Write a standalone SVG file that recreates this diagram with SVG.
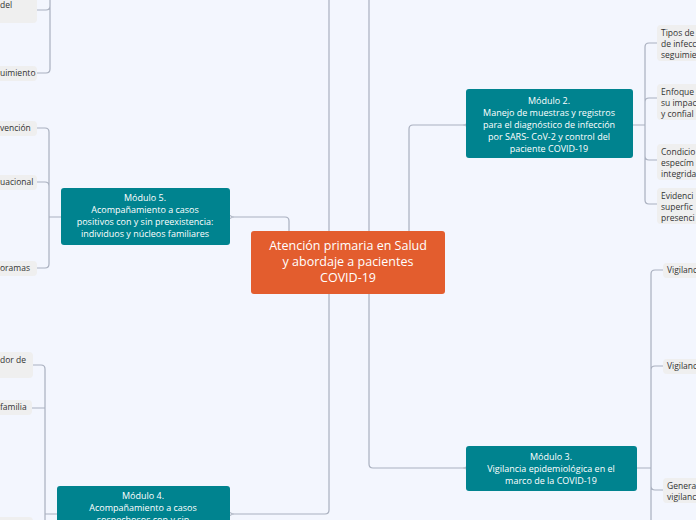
<svg xmlns="http://www.w3.org/2000/svg" width="696" height="520" viewBox="0 0 696 520">
<style>
.c{fill:none;stroke:#a9b0bf;stroke-width:1.2}
.m{fill:#00838f}
.mt{font-family:"Open Sans","Liberation Sans",sans-serif;font-size:9px;fill:#fff;text-anchor:middle}
.l{fill:#efefef}
.lt{font-family:"Open Sans","Liberation Sans",sans-serif;font-size:8.5px;fill:#333}
</style>
<defs><marker id="a" viewBox="0 0 8 8" refX="1" refY="4" markerWidth="7" markerHeight="7" orient="auto"><path d="M7,1 L1,4 L7,7" fill="none" stroke="#a9b0bf" stroke-width="1"/></marker></defs>
<rect width="696" height="520" fill="#f3f6fe"/>
<g id="connectors">
<path class="c" d="M329,231 V0"/>
<path class="c" d="M369,231 V0"/>
<path class="c" d="M409,231 V129 Q409,125 413,125 H464" marker-end="url(#a)"/>
<path class="c" d="M289,231 V221 Q289,217 285,217 H233" marker-end="url(#a)"/>
<path class="c" d="M369,294 V464 Q369,468 373,468 H464" marker-end="url(#a)"/>
<path class="c" d="M329,294 V510 Q329,514 325,514 H233" marker-end="url(#a)"/>
<path class="c" d="M37,10 H46 Q50,10 50,6 V0 M50,0 V69 Q50,73 46,73 H37"/>
<path class="c" d="M61,217 H49 M37,128 H45 Q49,128 49,132 V264 Q49,268 45,268 H37 M37,182 H45 Q49,182 49,186"/>
<path class="c" d="M57,514 H45 M33,365 H41 Q45,365 45,369 V520 M32,408 H45"/>
<path class="c" d="M633,125 H645 M657,43 H649 Q645,43 645,47 V200 Q645,204 649,204 H657 M645,102 Q645,98 649,98 H657 M645,156 Q645,160 649,160 H657"/>
<path class="c" d="M637,468 H651 M663,270 H655 Q651,270 651,274 V520 M651,370 Q651,366 655,366 H663 M651,486 Q651,490 655,490 H663"/>
</g>
<g id="central"><rect x="251" y="231" width="194" height="63" rx="3" fill="#e35d2e"/>
<text font-family="Open Sans,Liberation Sans,sans-serif" font-size="12.5" fill="#fff" text-anchor="middle"><tspan x="348" y="250">Atención primaria en Salud</tspan><tspan x="348" y="266">y abordaje a pacientes</tspan><tspan x="348" y="282">COVID-19</tspan></text></g>
<g id="m2"><rect class="m" x="466" y="89" width="167" height="69" rx="3"/><text class="mt"><tspan x="549" y="104">Módulo 2.</tspan><tspan x="549" y="116">Manejo de muestras y registros</tspan><tspan x="549" y="128">para el diagnóstico de infección</tspan><tspan x="549" y="140">por SARS- CoV-2 y control del</tspan><tspan x="549" y="152">paciente COVID-19</tspan></text></g>
<g id="m5"><rect class="m" x="61" y="188" width="169" height="57" rx="3"/><text class="mt"><tspan x="145" y="201">Módulo 5.</tspan><tspan x="145" y="213">Acompañamiento a casos</tspan><tspan x="145" y="225">positivos con y sin preexistencia:</tspan><tspan x="145" y="237">individuos y núcleos familiares</tspan></text></g>
<g id="m3"><rect class="m" x="466" y="446" width="171" height="45" rx="3"/><text class="mt"><tspan x="551" y="460">Módulo 3.</tspan><tspan x="551" y="472">Vigilancia epidemiológica en el</tspan><tspan x="551" y="484">marco de la COVID-19</tspan></text></g>
<g id="m4"><rect class="m" x="57" y="486" width="173" height="50" rx="3"/><text class="mt"><tspan x="143" y="499">Módulo 4.</tspan><tspan x="143" y="511">Acompañamiento a casos</tspan><tspan x="143" y="523">sospechosos con y sin</tspan></text></g>
<g id="leaves">
<rect class="l" x="-5" y="-5" width="42" height="28" rx="4"/><text class="lt" x="0" y="8">del</text>
<rect class="l" x="-5" y="66" width="42" height="15" rx="4"/><text class="lt" x="0" y="76">uimiento</text>
<rect class="l" x="-5" y="121" width="42" height="15" rx="4"/><text class="lt" x="0" y="131">vención</text>
<rect class="l" x="-5" y="175" width="42" height="15" rx="4"/><text class="lt" x="0" y="185">uacional</text>
<rect class="l" x="-5" y="261" width="42" height="15" rx="4"/><text class="lt" x="0" y="271">oramas</text>
<rect class="l" x="-5" y="352" width="38" height="26" rx="4"/><text class="lt" x="0" y="363">dor de</text>
<rect class="l" x="-5" y="400" width="37" height="15" rx="4"/><text class="lt" x="0" y="410">familia</text>
<rect class="l" x="-5" y="517" width="38" height="10" rx="4"/>
<rect class="l" x="657" y="25" width="45" height="36" rx="4"/><text class="lt"><tspan x="661" y="36">Tipos de</tspan><tspan x="661" y="47">de infecc</tspan><tspan x="661" y="58">seguimie</tspan></text>
<rect class="l" x="657" y="84" width="45" height="36" rx="4"/><text class="lt"><tspan x="661" y="95">Enfoque</tspan><tspan x="661" y="106">su impac</tspan><tspan x="661" y="117">y confial</tspan></text>
<rect class="l" x="657" y="144" width="45" height="36" rx="4"/><text class="lt"><tspan x="661" y="155">Condicio</tspan><tspan x="661" y="166">especím</tspan><tspan x="661" y="177">integrida</tspan></text>
<rect class="l" x="657" y="188" width="45" height="36" rx="4"/><text class="lt"><tspan x="661" y="199">Evidenci</tspan><tspan x="661" y="210">superfic</tspan><tspan x="661" y="221">presenci</tspan></text>
<rect class="l" x="663" y="263" width="40" height="15" rx="4"/><text class="lt" x="667" y="273">Vigilanc</text>
<rect class="l" x="663" y="359" width="40" height="15" rx="4"/><text class="lt" x="667" y="369">Vigilanc</text>
<rect class="l" x="663" y="478" width="40" height="25" rx="4"/><text class="lt"><tspan x="667" y="489">Genera</tspan><tspan x="667" y="500">vigilanc</tspan></text>
</g>
</svg>
